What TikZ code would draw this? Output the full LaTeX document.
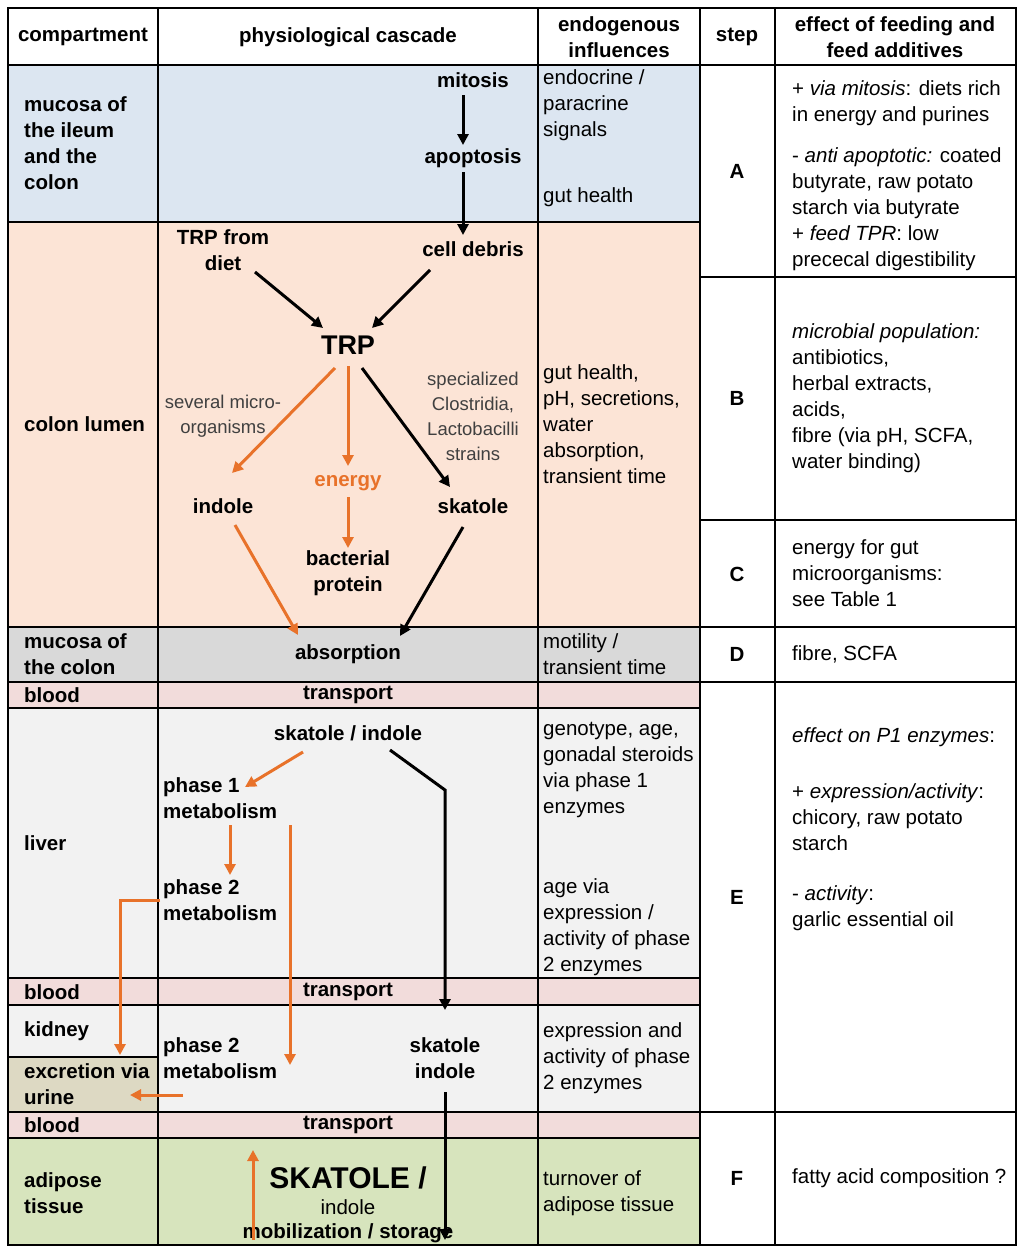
\documentclass[tikz,border=0pt]{standalone}
\usepackage{fontspec}
\setmainfont{Liberation Sans}
\usetikzlibrary{arrows.meta}
\definecolor{cblue}{HTML}{DCE6F1}
\definecolor{cpeach}{HTML}{FCE4D6}
\definecolor{cgray}{HTML}{D9D9D9}
\definecolor{cpink}{HTML}{F2DCDB}
\definecolor{cliver}{HTML}{F2F2F2}
\definecolor{colive}{HTML}{DDD9C3}
\definecolor{cgreen}{HTML}{D7E4BD}
\definecolor{corange}{HTML}{E8722A}
\begin{document}
\begin{tikzpicture}[x=1pt,y=-1pt,
  txt/.style={font=\fontsize{20.5}{26}\selectfont,inner sep=0pt,align=left,anchor=west},
  btxt/.style={txt,font=\fontsize{20.5}{26}\selectfont\bfseries},
  ctr/.style={btxt,anchor=center,align=center},
  small/.style={txt,anchor=center,align=center,font=\fontsize{18.5}{25}\selectfont,text=black!75},
  oarr/.style={corange,line width=3pt,-{Triangle[length=11pt,width=11pt]}},
  barr/.style={black,line width=3pt,-{Triangle[length=11pt,width=11pt]}},
  grid/.style={black,line width=1.5pt}]
\useasboundingbox (0,0) rectangle (1024,1253);
% fills
\fill[cblue] (8,65) rectangle (700,222);
\fill[cpeach] (8,222) rectangle (700,627);
\fill[cgray] (8,627) rectangle (700,682);
\fill[cpink] (8,682) rectangle (700,708);
\fill[cliver] (8,708) rectangle (700,978);
\fill[cpink] (8,978) rectangle (700,1005);
\fill[cliver] (8,1005) rectangle (700,1112);
\fill[colive] (8,1057) rectangle (158,1112);
\fill[cpink] (8,1112) rectangle (700,1138);
\fill[cgreen] (8,1138) rectangle (700,1245);
% grid
\draw[grid] (8,8) rectangle (1016,1245);
\foreach \x in {158,538,700,775} \draw[grid] (\x,8) -- (\x,1245);
\foreach \y in {65,222,627,682,708,978,1005,1112,1138} \draw[grid] (8,\y) -- (700,\y);
\draw[grid] (8,1057) -- (158,1057);
\foreach \y in {65,277,520,627,682,1112} \draw[grid] (700,\y) -- (1016,\y);
% headers
\node[ctr] (h1) at (83,37) {compartment};
\node[ctr] (h2) at (348,37) {physiological cascade};
\node[ctr] (h3) at (619,37) {endogenous\\influences};
\node[ctr] (h4) at (737,37) {step};
\node[ctr] (h5) at (895,37) {effect of feeding and\\feed additives};
% compartments
\node[btxt] (c1) at (24,143) {mucosa of\\the ileum\\and the\\colon};
\node[btxt] (c2) at (24,424) {colon lumen};
\node[btxt] (c3) at (24,654) {mucosa of\\the colon};
\node[btxt] (c4) at (24,695) {blood};
\node[btxt] (c5) at (24,843) {liver};
\node[btxt] (c6) at (24,992) {blood};
\node[btxt] (c7) at (24,1031) {kidney};
\node[btxt] (c8) at (24,1084) {excretion via\\urine};
\node[btxt] (c9) at (24,1125) {blood};
\node[btxt] (c10) at (24,1193) {adipose\\tissue};
% steps
\node[ctr] (sA) at (737,171) {A};
\node[ctr] (sB) at (737,398) {B};
\node[ctr] (sC) at (737,574) {C};
\node[ctr] (sD) at (737,654) {D};
\node[ctr] (sE) at (737,897) {E};
\node[ctr] (sF) at (737,1178) {F};
% endogenous
\node[txt] (e1) at (543,105) {endocrine /\\paracrine\\signals};
\node[txt] (e2) at (543,197) {gut health};
\node[txt] (e3) at (543,424) {gut health,\\pH, secretions,\\water\\absorption,\\transient time};
\node[txt] (e4) at (543,654) {motility /\\transient time};
\node[txt] (e5) at (543,770) {genotype, age,\\gonadal steroids\\via phase 1\\enzymes};
\node[txt] (e6) at (543,927) {age via\\expression /\\activity of phase\\2 enzymes};
\node[txt] (e7) at (543,1058) {expression and\\activity of phase\\2 enzymes};
\node[txt] (e8) at (543,1193) {turnover of\\adipose tissue};
% effects
\node[txt] (f1) at (792,103) {+ \textit{via mitosis}: diets rich\\in energy and purines};
\node[txt] (f2) at (792,209) {- \textit{anti apoptotic:} coated\\butyrate, raw potato\\starch via butyrate\\+ \textit{feed TPR}: low\\prececal digestibility};
\node[txt] (f3) at (792,398) {\textit{microbial population:}\\antibiotics,\\herbal extracts,\\acids,\\fibre (via pH, SCFA,\\water binding)};
\node[txt] (f4) at (792,573) {energy for gut\\microorganisms:\\see Table 1};
\node[txt] (f5) at (792,654) {fibre, SCFA};
\node[txt] (f6) at (792,737) {\textit{effect on P1 enzymes}:};
\node[txt] (f7) at (792,817) {+ \textit{expression/activity}:\\chicory, raw potato\\starch};
\node[txt] (f8) at (792,908) {- \textit{activity}:\\garlic essential oil};
\node[txt] (f9) at (792,1178) {fatty acid composition ?};
% cascade
\node[ctr] (mit) at (473,80) {mitosis};
\node[ctr] (apo) at (473,158) {apoptosis};
\node[ctr] (deb) at (473,249) {cell debris};
\node[ctr] (diet) at (223,250) {TRP from\\diet};
\node[ctr,font=\fontsize{27}{30}\selectfont\bfseries] (trp) at (348,345) {TRP};
\node[small] (sev) at (223,416) {several micro-\\organisms};
\node[small] (spec) at (473,416) {specialized\\Clostridia,\\Lactobacilli\\strains};
\node[ctr] (ind) at (223,506) {indole};
\node[ctr] (ska) at (473,506) {skatole};
\node[ctr,text=corange] (ene) at (348,483) {energy};
\node[ctr] (bp) at (348,573) {bacterial\\protein};
\node[ctr] (abs) at (348,654) {absorption};
\node[ctr] (t1) at (348,695) {transport};
\node[ctr] (si) at (348,733) {skatole / indole};
\node[btxt] (p1) at (163,798) {phase 1\\metabolism};
\node[btxt] (p2) at (163,900) {phase 2\\metabolism};
\node[ctr] (t2) at (348,992) {transport};
\node[btxt] (p3) at (163,1058) {phase 2\\metabolism};
\node[ctr] (si2) at (445,1058) {skatole\\indole};
\node[ctr] (t3) at (348,1125) {transport};
\node[ctr,font=\fontsize{30}{32}\selectfont\bfseries] (SK) at (348,1178) {SKATOLE /};
\node[txt,anchor=center] (ind2) at (348,1207) {indole};
\node[ctr] (mob) at (348,1233) {mobilization / storage};
\coordinate (bend1) at (445,790);
\coordinate (bend2) at (120,900);
% arrows
\draw[barr] (463,95) -- (463,145);
\draw[barr] (463,172) -- (463,235);
\draw[barr] (255,272) -- (323,328);
\draw[barr] (430,270) -- (372,328);
\draw[oarr] (335,368) -- (232,473);
\draw[oarr] (348,366) -- (348,466);
\draw[barr] (362,368) -- (450,487);
\draw[oarr] (348,497) -- (348,548);
\draw[oarr] (235,525) -- (298,635);
\draw[barr] (463,527) -- (400,636);
\draw[oarr] (303,752) -- (245,787);
\draw[barr] (390,750) -- (bend1) -- (445,1010);
\draw[oarr] (230,825) -- (230,875);
\draw[oarr] (290,825) -- (290,1065);
\draw[oarr] (160,900) -- (bend2) -- (120,1055);
\draw[oarr] (183,1095) -- (130,1095);
\draw[barr] (445,1092) -- (445,1240);
\draw[oarr] (253,1240) -- (253,1150);
\end{tikzpicture}
\end{document}
